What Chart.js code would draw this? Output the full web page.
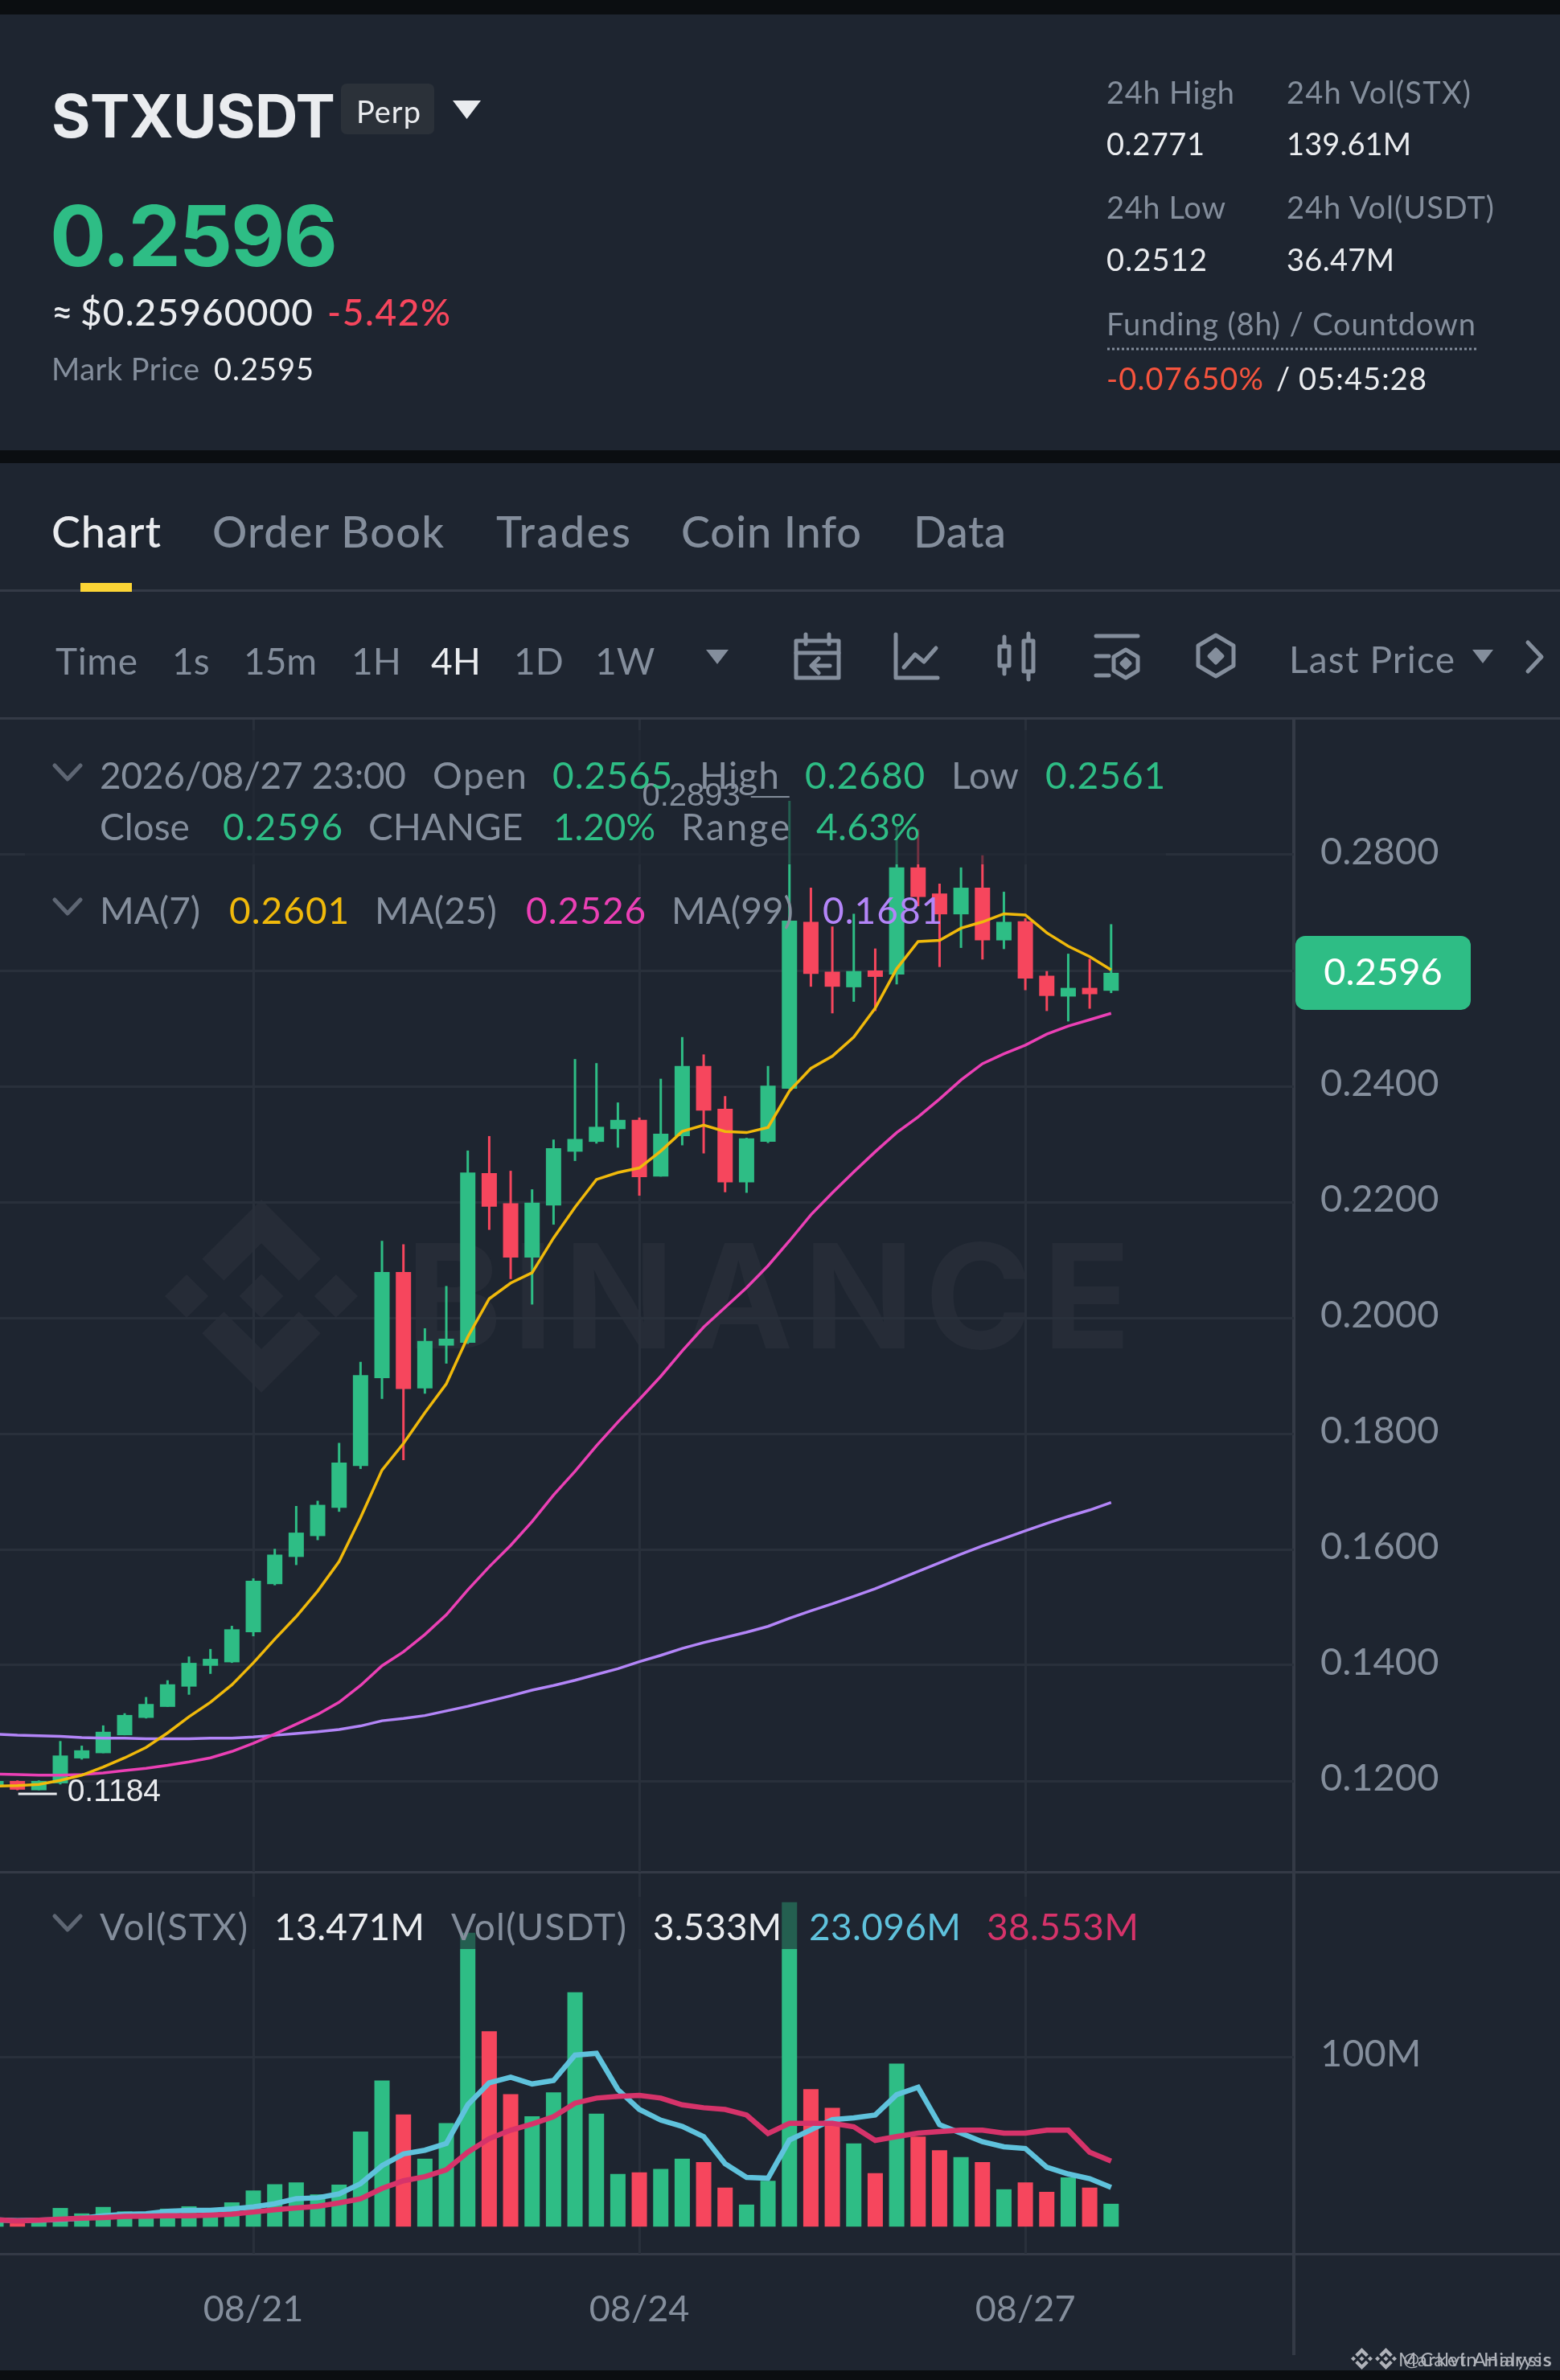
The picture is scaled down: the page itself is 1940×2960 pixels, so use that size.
<!DOCTYPE html>
<html>
<head>
<meta charset="utf-8">
<title>STXUSDT</title>
<script src="https://cdn.jsdelivr.net/npm/chart.js@4"></script>
<style>
    html, body { margin: 0; padding: 0; background: #1e2530; }
    #page { position: relative; width: 1940px; height: 2960px; overflow: hidden; background: #1e2530; font-family: Lato, sans-serif; }
    #page > * { position: absolute; }
    .band { left: 0; width: 1940px; background: #0b0e11; }
    .sep { background: #343a46; }
    svg text { font-family: Lato, sans-serif; }
    svg text.big { font-family: Inter, sans-serif; font-weight: 700; }
    .g { fill: #848e9c; }
    .w { fill: #eaecef; }
    .up { fill: #2ebd85; }
    .dn { fill: #f6465d; }
    .lg { font-size: 46px; }
    .num { letter-spacing: 1px; }
    .st { font-size: 38px; }
    .tab { font-size: 54px; font-weight: 500; }
    .tf { font-size: 46px; }
    .ico { fill: none; stroke: #848e9c; stroke-width: 5; stroke-linejoin: round; stroke-linecap: round; }
</style>
</head>
<body>
<div id="page">
    <div class="band" style="top:0;height:18px"></div>
    <div class="band" style="top:560px;height:16px"></div>
    <div class="band" style="top:2948px;height:12px"></div>
    <div class="sep" style="left:0;top:733px;width:1940px;height:3px"></div>
    <div class="sep" style="left:0;top:892px;width:1940px;height:3px"></div>
    <div class="sep" style="left:0;top:2327px;width:1940px;height:3px"></div>
    <div class="sep" style="left:0;top:2802px;width:1940px;height:3px"></div>
    <div class="sep" style="left:1607px;top:893px;width:4px;height:2036px"></div>
    <div style="left:100px;top:725px;width:64px;height:11px;background:#fcd535"></div>

    <!-- watermark sits under the charts -->
    <svg style="left:0;top:0" width="1940" height="2960">
        <svg x="205" y="1492" width="240" height="240" viewBox="0 0 126.61 126.61">
            <path fill="#262c37" d="M38.73 53.2l24.59-24.58 24.6 24.6 14.3-14.31L63.32 0 24.42 38.9zM0 63.31l14.3-14.31 14.31 14.31-14.31 14.3zM38.73 73.41l24.59 24.59 24.6-24.6 14.31 14.29-38.9 38.91-38.91-38.88-.02-.02zM98 63.31l14.3-14.3 14.31 14.3-14.31 14.3zM77.83 63.3l-14.51-14.52-10.73 10.73-1.24 1.23-2.54 2.54 14.51 14.5 14.5-14.47z"/>
        </svg>
        <text x="505" y="1677" font-size="180" class="big" fill="#262c37" textLength="901">BINANCE</text>
    </svg>

    <canvas id="priceChart" width="1940" height="1433" style="left:0;top:895px"></canvas>
    <canvas id="volChart" width="1940" height="618" style="left:0;top:2330px"></canvas>

    <!-- header, toolbar and legends -->
    <svg style="left:0;top:0" width="1940" height="2960">
        <text x="64" y="171" font-size="74" class="big w" textLength="353">STXUSDT</text>
        <rect x="424" y="104" width="116" height="63" rx="7" fill="#2b3139"/>
        <text x="443" y="153" font-size="38" class="w" textLength="80">Perp</text>
        <path d="M563 125h35l-17.5 23z" fill="#eaecef"/>
        <text x="62" y="331" font-size="104" class="big up" textLength="358">0.2596</text>
        <text x="64" y="405" font-size="46" font-weight="500" class="w">≈</text>
        <text x="100" y="405" font-size="46" font-weight="500" class="w" textLength="289">$0.25960000</text>
        <text x="407" y="405" font-size="46" font-weight="500" class="dn" textLength="153">-5.42%</text>
        <text x="64" y="473" class="st g" textLength="184">Mark Price</text>
        <text x="266" y="473" class="st w" textLength="124">0.2595</text>

        <text x="1376" y="129" class="st g" textLength="159">24h High</text>
        <text x="1600" y="129" class="st g" textLength="229">24h Vol(STX)</text>
        <text x="1376" y="193" class="st w" textLength="122">0.2771</text>
        <text x="1600" y="193" class="st w" textLength="155">139.61M</text>
        <text x="1376" y="272" class="st g" textLength="148">24h Low</text>
        <text x="1600" y="272" class="st g" textLength="258">24h Vol(USDT)</text>
        <text x="1376" y="337" class="st w" textLength="125">0.2512</text>
        <text x="1600" y="337" class="st w" textLength="134">36.47M</text>
        <text x="1376" y="417" class="st g" textLength="459">Funding (8h) / Countdown</text>
        <line x1="1377" y1="434" x2="1836" y2="434" stroke="#848e9c" stroke-width="3" stroke-dasharray="3 3"/>
        <text x="1376" y="485" class="st" fill="#f6543e" textLength="195">-0.07650%</text>
        <text x="1587" y="485" class="st w">/</text>
        <text x="1615" y="485" class="st w" textLength="159">05:45:28</text>

        <text x="64" y="681" class="tab w" textLength="136">Chart</text>
        <text x="264" y="681" class="tab g" textLength="288">Order Book</text>
        <text x="617" y="681" class="tab g" textLength="167">Trades</text>
        <text x="847" y="681" class="tab g" textLength="224">Coin Info</text>
        <text x="1136" y="681" class="tab g" textLength="115">Data</text>

        <text x="69" y="839" class="tf g" textLength="102">Time</text>
        <text x="214" y="839" class="tf g">1s</text>
        <text x="303" y="839" class="tf g">15m</text>
        <text x="437" y="839" class="tf g">1H</text>
        <text x="536" y="839" class="tf w">4H</text>
        <text x="639" y="839" class="tf g">1D</text>
        <text x="740" y="839" class="tf g">1W</text>
        <path d="M878 808h28l-14 18z" fill="#848e9c"/>
        <text x="1603" y="837" class="tf g" textLength="206">Last Price</text>
        <path d="M1831 808h26l-13 17z" fill="#848e9c"/>
        <path class="ico" d="M1900 799l17 18-17 18"/>
        <g class="ico">
            <rect x="990" y="797" width="53" height="46"/><path d="M990 812h53M1002 789v12M1031 789v12M1032 828h-22M1018 819l-9 9 9 9"/>
            <path d="M1114 789v54h52M1124 830l14-16 11 9 15-17"/>
            <path d="M1243 804h12v24h-12zM1273 797h12v38h-12zM1249 792v12M1249 828v10M1279 788v9M1279 835v10"/>
            <path d="M1363 791h52M1363 816h16M1363 840h16M1400 808l15 9v17l-15 9-15-9v-17z"/><path d="M1400 820l5 5-5 5-5-5z" fill="#848e9c"/>
            <path d="M1512 790l22 13v25l-22 13-22-13v-25z"/><path d="M1512 808l8 8-8 8-8-8z" fill="#848e9c"/>
        </g>

        <path class="ico" style="stroke:#5e6673" d="M68 952l16 17 16-17M68 1119l16 17 16-17M68 2383l16 17 16-17"/>
        <text x="124" y="981" class="lg g" textLength="381">2026/08/27 23:00</text>
        <text x="538" y="981" class="lg g" textLength="117">Open</text>
        <text x="687" y="981" class="lg num up">0.2565</text>
        <text x="870" y="981" class="lg g" textLength="99">High</text>
        <text x="1001" y="981" class="lg num up">0.2680</text>
        <text x="1183" y="981" class="lg g">Low</text>
        <text x="1300" y="981" class="lg num up">0.2561</text>
        <text x="124" y="1045" class="lg g">Close</text>
        <text x="277" y="1045" class="lg num up">0.2596</text>
        <text x="458" y="1045" class="lg g">CHANGE</text>
        <text x="688" y="1045" class="lg up" textLength="127">1.20%</text>
        <text x="847" y="1045" class="lg g" textLength="135">Range</text>
        <text x="1015" y="1045" class="lg up" textLength="129">4.63%</text>
        <text x="124" y="1149" class="lg g">MA(7)</text>
        <text x="285" y="1149" class="lg num" fill="#f0b90b">0.2601</text>
        <text x="466" y="1149" class="lg g">MA(25)</text>
        <text x="654" y="1149" class="lg num" fill="#eb40b5">0.2526</text>
        <text x="835" y="1149" class="lg g">MA(99)</text>
        <text x="1023" y="1149" class="lg num" fill="#b385f8">0.1681</text>
        <text x="124" y="2413" class="lg g" textLength="184">Vol(STX)</text>
        <text x="341" y="2413" class="lg w" textLength="187">13.471M</text>
        <text x="561" y="2413" class="lg g" textLength="218">Vol(USDT)</text>
        <text x="812" y="2413" class="lg w">3.533M</text>
        <text x="1006" y="2413" class="lg" fill="#5fc2dc" textLength="189">23.096M</text>
        <text x="1227" y="2413" class="lg" fill="#d6336a" textLength="189">38.553M</text>

        <!-- footer stamp, two marks printed over each other -->
        <g fill="#c9ccd2" opacity="0.85">
            <svg x="1680" y="2920" width="27" height="27" viewBox="0 0 126.61 126.61"><path d="M38.73 53.2l24.59-24.58 24.6 24.6 14.3-14.31L63.32 0 24.42 38.9zM0 63.31l14.3-14.31 14.31 14.31-14.31 14.3zM38.73 73.41l24.59 24.59 24.6-24.6 14.31 14.29-38.9 38.91-38.91-38.88-.02-.02zM98 63.31l14.3-14.3 14.31 14.3-14.31 14.3zM77.83 63.3l-14.51-14.52-10.73 10.73-1.24 1.23-2.54 2.54 14.51 14.5 14.5-14.47z"/></svg>
            <svg x="1710" y="2920" width="27" height="27" viewBox="0 0 126.61 126.61"><path d="M38.73 53.2l24.59-24.58 24.6 24.6 14.3-14.31L63.32 0 24.42 38.9zM0 63.31l14.3-14.31 14.31 14.31-14.31 14.3zM38.73 73.41l24.59 24.59 24.6-24.6 14.31 14.29-38.9 38.91-38.91-38.88-.02-.02zM98 63.31l14.3-14.3 14.31 14.3-14.31 14.3zM77.83 63.3l-14.51-14.52-10.73 10.73-1.24 1.23-2.54 2.54 14.51 14.5 14.5-14.47z"/></svg>
            <text x="1739" y="2943" font-size="24" textLength="191">Market Analysis</text>
            <text x="1745" y="2943" font-size="24" textLength="184">@Calvin Hiaryss</text>
        </g>
    </svg>
</div>

<script>
// ── DATA (one entry per 4H candle) ──
const opens  = [0.1192,0.1200,0.1184,0.1196,0.1239,0.1248,0.1279,0.1309,0.1328,0.1363,0.1399,0.1405,0.1457,0.1540,0.1587,0.1623,0.1672,0.1744,0.1896,0.2079,0.1878,0.1952,0.1957,0.2250,0.2198,0.2104,0.2194,0.2287,0.2304,0.2326,0.2342,0.2244,0.2314,0.2435,0.2361,0.2234,0.2304,0.2396,0.2684,0.2598,0.2571,0.2600,0.2593,0.2778,0.2733,0.2697,0.2743,0.2652,0.2685,0.2591,0.2555,0.2570,0.2565];
const closes = [0.1200,0.1185,0.1200,0.1244,0.1253,0.1285,0.1314,0.1333,0.1367,0.1404,0.1411,0.1462,0.1546,0.1591,0.1629,0.1677,0.1750,0.1901,0.2079,0.1877,0.1960,0.1964,0.2251,0.2192,0.2104,0.2199,0.2293,0.2309,0.2330,0.2342,0.2243,0.2318,0.2435,0.2358,0.2234,0.2310,0.2401,0.2686,0.2594,0.2572,0.2599,0.2589,0.2778,0.2727,0.2697,0.2743,0.2652,0.2684,0.2586,0.2556,0.2570,0.2559,0.2596];
const highs  = [0.1203,0.1201,0.1201,0.1269,0.1261,0.1296,0.1317,0.1345,0.1374,0.1415,0.1428,0.1468,0.1550,0.1601,0.1675,0.1684,0.1784,0.1924,0.2133,0.2127,0.1982,0.2055,0.2289,0.2314,0.2254,0.2222,0.2308,0.2447,0.2440,0.2372,0.2346,0.2413,0.2485,0.2455,0.2383,0.2311,0.2435,0.2893,0.2743,0.2676,0.2698,0.2638,0.2850,0.2844,0.2750,0.2778,0.2799,0.2736,0.2690,0.2599,0.2629,0.2620,0.2680];
const lows   = [0.1191,0.1184,0.1184,0.1194,0.1237,0.1248,0.1279,0.1308,0.1328,0.1349,0.1385,0.1404,0.1450,0.1538,0.1573,0.1616,0.1665,0.1739,0.1860,0.1754,0.1869,0.1921,0.1955,0.2152,0.2067,0.2023,0.2161,0.2271,0.2301,0.2294,0.2211,0.2244,0.2298,0.2284,0.2217,0.2216,0.2302,0.2395,0.2572,0.2526,0.2546,0.2530,0.2576,0.2711,0.2606,0.2639,0.2619,0.2637,0.2566,0.2530,0.2512,0.2534,0.2561];
const ma7    = [0.1191,0.1192,0.1194,0.1201,0.1210,0.1224,0.1240,0.1258,0.1283,0.1311,0.1336,0.1366,0.1404,0.1445,0.1484,0.1528,0.1579,0.1655,0.1737,0.1783,0.1836,0.1886,0.1967,0.2033,0.2060,0.2078,0.2138,0.2191,0.2239,0.2251,0.2259,0.2288,0.2322,0.2333,0.2322,0.2320,0.2329,0.2392,0.2431,0.2452,0.2485,0.2535,0.2603,0.2650,0.2652,0.2673,0.2684,0.2698,0.2696,0.2665,0.2642,0.2624,0.2601];
const ma25   = [0.1212,0.1211,0.1210,0.1210,0.1211,0.1214,0.1218,0.1222,0.1227,0.1233,0.1240,0.1251,0.1265,0.1281,0.1298,0.1315,0.1336,0.1365,0.1399,0.1423,0.1453,0.1487,0.1530,0.1570,0.1607,0.1648,0.1694,0.1735,0.1779,0.1820,0.1859,0.1899,0.1943,0.1984,0.2018,0.2052,0.2090,0.2133,0.2178,0.2216,0.2252,0.2287,0.2320,0.2347,0.2378,0.2411,0.2439,0.2456,0.2471,0.2490,0.2504,0.2515,0.2526];
const ma99   = [0.1281,0.1279,0.1278,0.1277,0.1275,0.1274,0.1274,0.1273,0.1273,0.1273,0.1274,0.1274,0.1276,0.1279,0.1282,0.1285,0.1289,0.1295,0.1304,0.1308,0.1313,0.1321,0.1329,0.1338,0.1347,0.1357,0.1365,0.1374,0.1384,0.1394,0.1406,0.1417,0.1429,0.1439,0.1448,0.1457,0.1467,0.1481,0.1494,0.1506,0.1519,0.1532,0.1547,0.1562,0.1577,0.1592,0.1606,0.1619,0.1632,0.1645,0.1657,0.1668,0.1681];
const volumes = [3,2,3,11,7.8,11.6,9,8,10.6,12,10,14.3,21.3,25,26,19,24.7,56,86,66,40,61,173,115,78,65,79,138,66.5,31,32,34,40,38,23,13,27,191,81,70,49,31.5,96,53,45,41,38,22,26,20.5,29,23,13.471];
const volFast = [4,3.6,3.8,4.2,5,6.4,7.2,7.6,9,9.6,9.6,10.4,11.6,13.5,16.5,17,19.3,25.3,35.9,42.8,45,49,71.7,84.7,88,84,86,101,102,80.7,69,62.7,59,53,37,29,28.5,51,57,63,64,65.7,77.7,82,60,55,50,47,46,35,31,28.3,23.096];
const volSlow = [4,3.4,3.8,4.4,5,5.4,6,6.2,6.4,6.4,6.8,7.4,8.6,10,11,12,14,16.4,22.5,27,29.4,33.5,43.8,51.8,56.8,60.4,64.7,72.7,75.7,76.7,77.3,75.7,71.7,70,69,65.7,54.8,60.8,60.8,60.8,58.8,50.8,53,55,56,56.8,56.8,55,55,56.8,56.8,43.8,38.553];

const priceTicks = [0.12,0.14,0.16,0.18,0.20,0.22,0.24,0.26,0.28];
const volTicks   = [100];
const dateTicks  = [12,30,48];
const dateLabels = ['08/21','08/24','08/27'];

const GREEN = '#2ebd85';
const RED   = '#f6465d';
const GRID  = '#29303b';
const GRAY  = '#848e9c';
const BG_DIM = 'rgba(30,37,48,0.62)';
const AXIS_W = 331;

const candleColors = closes.map((c, i) => c >= opens[i] ? GREEN : RED);
const pts = arr => arr.map((y, x) => ({ x, y }));

// ── SHARED SCALE PIECES ──
const xScale = showLabels => ({
    type: 'linear',
    offset: false,
    min: 0.1875,
    max: 60.52,
    grid: { color: GRID, lineWidth: 3, drawTicks: false, offset: false },
    border: { display: false },
    afterBuildTicks: s => { s.ticks = dateTicks.map(value => ({ value })); },
    afterFit: s => { s.height = showLabels ? 145 : 0; s.paddingLeft = 0; s.paddingRight = 0; },
    ticks: {
        display: showLabels,
        autoSkip: false,
        maxRotation: 0,
        padding: 42,
        color: GRAY,
        font: { family: 'Lato', size: 45 },
        callback: v => dateLabels[dateTicks.indexOf(v)]
    }
});

const yScale = (min, max, values, fmt) => ({
    position: 'right',
    min, max,
    grid: { color: GRID, lineWidth: 3, drawTicks: false },
    border: { display: false },
    afterBuildTicks: s => { s.ticks = values.map(value => ({ value })); },
    afterFit: s => { s.width = AXIS_W; s.paddingTop = 0; s.paddingBottom = 0; },
    // the second empty line lifts the label 3px over its grid line
    ticks: { autoSkip: false, padding: 33, color: GRAY, font: { family: 'Lato', size: 47, lineHeight: '6px' }, callback: v => [fmt(v), ''] }
});

const barSet = (data, colors) => ({ type: 'bar', data, backgroundColor: colors, grouped: false, borderWidth: 0, inflateAmount: 0, order: 5 });
const lineSet = (arr, color, width, order) => ({ type: 'line', data: pts(arr), borderColor: color, borderWidth: width, pointRadius: 0, tension: 0, order, borderCapStyle: 'butt' });

// ── PRICE OVERLAYS ──
const priceMarks = {
    id: 'priceMarks',
    afterDatasetsDraw(chart) {
        const { ctx, scales: { x, y } } = chart;
        ctx.save();
        ctx.fillStyle = BG_DIM;
        ctx.fillRect(31, 13, 1419, 167);

        const hi = Math.max(...highs), hiIdx = highs.indexOf(hi);
        const lo = Math.min(...lows),  loIdx = lows.indexOf(lo);
        ctx.textBaseline = 'middle';

        const hx = x.getPixelForValue(hiIdx), hy = y.getPixelForValue(hi);
        ctx.font = '40px "Liberation Sans"';
        ctx.fillStyle = GRAY;
        ctx.fillRect(hx - 48, hy - 6, 48, 2);
        ctx.textAlign = 'right';
        ctx.fillText(hi.toFixed(4), hx - 61, hy - 5);

        const lx = x.getPixelForValue(loIdx), ly = y.getPixelForValue(lo);
        ctx.font = '39px "Liberation Sans"';
        ctx.fillStyle = '#eaecef';
        ctx.fillRect(lx + 1, ly + 3, 48, 3);
        ctx.textAlign = 'left';
        ctx.fillText(lo.toFixed(4), lx + 62, ly + 3);

        // last price tag
        const last = closes[closes.length - 1];
        const ty = y.getPixelForValue(last);
        ctx.fillStyle = GREEN;
        ctx.beginPath();
        ctx.roundRect(x.right + 2, ty - 46, 218, 92, 12);
        ctx.fill();
        ctx.fillStyle = '#ffffff';
        ctx.font = '47px Lato';
        ctx.textAlign = 'center';
        ctx.fillText(last.toFixed(4), x.right + 111, ty);
        ctx.restore();
    }
};

const volDim = {
    id: 'volDim',
    afterDatasetsDraw(chart) {
        const { ctx } = chart;
        ctx.save();
        ctx.fillStyle = BG_DIM;
        ctx.fillRect(31, 29, 1400, 65);
        ctx.restore();
    }
};

// ── PRICE CHART ──
new Chart(document.getElementById('priceChart'), {
    type: 'bar',
    data: {
        datasets: [
            lineSet(ma7, '#f0b90b', 3.5, 1),
            lineSet(ma25, '#eb40b5', 3.5, 2),
            lineSet(ma99, '#b385f8', 3.5, 3),
            { ...barSet(closes.map((c, x) => ({ x, y: [opens[x], c] })), candleColors), barThickness: 19 },
            { ...barSet(highs.map((h, x) => ({ x, y: [lows[x], h] })), candleColors), barThickness: 3 }
        ]
    },
    options: {
        responsive: false,
        devicePixelRatio: 1,
        animation: false,
        events: [],
        layout: { padding: 0 },
        plugins: { legend: { display: false }, tooltip: { enabled: false } },
        scales: {
            x: xScale(false),
            y: yScale(0.12 - 113 / 7200, 0.12 + 1320 / 7200, priceTicks, v => v.toFixed(4))
        }
    },
    plugins: [priceMarks]
});

// ── VOLUME CHART ──
new Chart(document.getElementById('volChart'), {
    type: 'bar',
    data: {
        datasets: [
            lineSet(volSlow, '#d6336a', 6.5, 1),
            lineSet(volFast, '#5fc2dc', 6.5, 2),
            { ...barSet(volumes.map((y, x) => ({ x, y })), candleColors), barThickness: 19 }
        ]
    },
    options: {
        responsive: false,
        devicePixelRatio: 1,
        animation: false,
        events: [],
        layout: { padding: 0 },
        plugins: { legend: { display: false }, tooltip: { enabled: false } },
        scales: {
            x: xScale(true),
            y: yScale(-33.7 / 2.113, 439.3 / 2.113, volTicks, v => v + 'M')
        }
    },
    plugins: [volDim]
});
</script>
</body>
</html>
